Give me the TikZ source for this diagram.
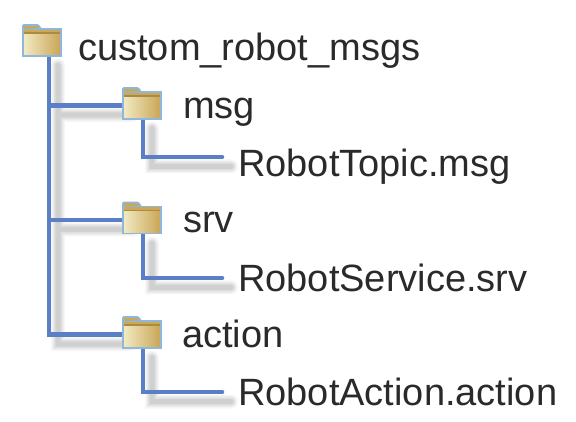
\documentclass[tikz,border=0pt]{standalone}
\usepackage{fontspec}
\setmainfont{Liberation Sans}
\definecolor{linkblue}{HTML}{5B7FC7}
\definecolor{folderedge}{HTML}{8FB6DD}
\definecolor{foldertab}{HTML}{CBA855}
\definecolor{folderband}{HTML}{AE8A3E}
\definecolor{folderlight}{HTML}{F2EBC4}
\definecolor{folderdark}{HTML}{C9A557}
\definecolor{inktext}{HTML}{2A2A2A}
\tikzset{
  x=1pt,y=-1pt,
  folderbox/.style={draw=folderedge,line width=1.8pt,left color=folderlight,right color=folderdark,
    minimum width=38pt,minimum height=27pt,inner sep=0pt,outer sep=0pt},
  label/.style={anchor=base west,inner sep=0pt,text=inktext,font=\fontsize{38}{38}\selectfont},
  link/.style={draw=linkblue,line width=4.6pt},
  ghost/.style={draw=black,line width=#1,line cap=round}
}
\newcommand{\foldertop}[1]{%
  \fill[foldertab,draw=folderedge,line width=1.8pt,rounded corners=1pt]
    ([yshift=-1pt]#1.north west) -- ([yshift=4pt]#1.north west) -- ([xshift=15pt,yshift=4pt]#1.north west) -- ([xshift=18pt]#1.north west) -- cycle;
  \fill[foldertab] ([xshift=.9pt,yshift=-.9pt]#1.north west) rectangle ([xshift=-.9pt,yshift=-3.4pt]#1.north east);
  \fill[folderband] ([xshift=.9pt,yshift=-3.4pt]#1.north west) rectangle ([xshift=-.9pt,yshift=-4.6pt]#1.north east);
}
\newcommand{\softshadow}[2]{%
  \begin{scope}[transparency group,opacity=#2,transform canvas={shift={(9pt,-9.5pt)}}]
    \draw[ghost=#1] (rootdrop) |- (action.west);
    \draw[ghost=#1] (rootdrop |- msg.west) -- (msg.west);
    \draw[ghost=#1] (rootdrop |- srv.west) -- (srv.west);
    \draw[ghost=#1] (msgdrop) |- (msgend);
    \draw[ghost=#1] (srvdrop) |- (srvend);
    \draw[ghost=#1] (actiondrop) |- (actionend);
  \end{scope}%
}
\begin{document}
\begin{tikzpicture}
\useasboundingbox[fill=white] (0,0) rectangle (576,422);
% folders
\node[folderbox] (root) at (42,42.5) {};
\node[folderbox] (msg) at (142,105.5) {};
\node[folderbox] (srv) at (142,220) {};
\node[folderbox] (action) at (142,334.5) {};
% texts
\node[label] (trootlabel) at (78,61) {custom\_robot\_msgs};
\node[label] (tmsg) at (183,119) {msg};
\node[label] (tsrv) at (183,233) {srv};
\node[label] (taction) at (182,347.5) {action};
\node[label] (fmsg) at (238,177) {RobotTopic.msg};
\node[label] (fsrv) at (238,291) {RobotService.srv};
\node[label] (faction) at (238,405) {RobotAction.action};
% coordinates of the line ends
\coordinate (rootdrop) at (49,56);
\coordinate (msgdrop) at (143,119);
\coordinate (srvdrop) at (143,234);
\coordinate (actiondrop) at (143,348);
\coordinate (msgend) at (222,157);
\coordinate (srvend) at (222,278);
\coordinate (actionend) at (222,392);
% soft shadows
\softshadow{14pt}{0.035}
\softshadow{11pt}{0.045}
\softshadow{8pt}{0.055}
\softshadow{5pt}{0.06}
% connectors
\draw[link] (rootdrop) |- (action.west);
\draw[link] (rootdrop |- msg.west) -- (msg.west);
\draw[link] (rootdrop |- srv.west) -- (srv.west);
\draw[link,line cap=round] (msgdrop) |- (msgend);
\draw[link,line cap=round] (srvdrop) |- (srvend);
\draw[link,line cap=round] (actiondrop) |- (actionend);
% folders on top of the lines
\node[folderbox] at (root) {};
\node[folderbox] at (msg) {};
\node[folderbox] at (srv) {};
\node[folderbox] at (action) {};
\foldertop{root}\foldertop{msg}\foldertop{srv}\foldertop{action}
\end{tikzpicture}
\end{document}
